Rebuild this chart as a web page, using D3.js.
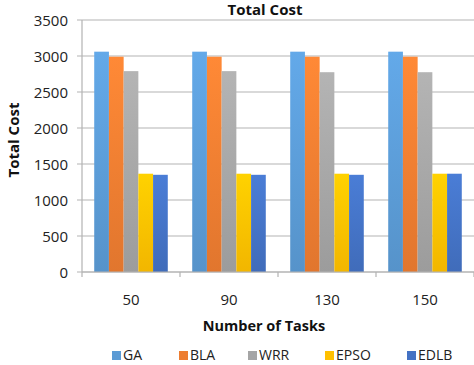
<!DOCTYPE html>
<html><head><meta charset="utf-8">
<script src="https://cdn.jsdelivr.net/npm/d3@7"></script>
<style>body{margin:0;background:#fff}svg{display:block}text{font-family:"Open Sans",sans-serif}</style>
</head><body>
<svg id="c" width="474" height="365"></svg>
<script>
const categories = ["50","90","130","150"];
const seriesNames = ["GA","BLA","WRR","EPSO","EDLB"];
const GA   = [3060,3060,3060,3060];
const BLA  = [2990,2990,2990,2990];
const WRR  = [2790,2790,2775,2775];
const EPSO = [1365,1365,1365,1365];
const EDLB = [1350,1350,1350,1365];
const yTicks = [0,500,1000,1500,2000,2500,3000,3500];
const colors = ["#5B9BD5","#ED7D31","#A5A5A5","#FFC000","#4472C4"];

const seriesValues = [GA,BLA,WRR,EPSO,EDLB];
const svg = d3.select("#c");
const mLeft = 82, mRight = 474, mTop = 20, mBottom = 272;

const defs = svg.append("defs");
colors.forEach((c,i)=>{
  const g = defs.append("linearGradient").attr("id","g"+i).attr("x1",0).attr("y1",0).attr("x2",0).attr("y2",1);
  g.append("stop").attr("offset","0%").attr("stop-color",d3.color(c).brighter(0.25));
  g.append("stop").attr("offset","100%").attr("stop-color",d3.color(c).darker(0.15));
});

const x0 = d3.scaleBand().domain(categories).range([mLeft,mRight]).paddingInner(0).paddingOuter(0);
const x1 = d3.scaleBand().domain(seriesNames).range([0,x0.bandwidth()]).paddingOuter(0.83).paddingInner(0);
const y = d3.scaleLinear().domain([0,3500]).range([mBottom,mTop]);

// gridlines
svg.append("g").selectAll("line").data(yTicks).join("line")
  .attr("x1",mLeft-5).attr("x2",mRight).attr("y1",d=>y(d)).attr("y2",d=>y(d))
  .attr("stroke","#b3b3b3").attr("stroke-width",1.2);

// y axis line
svg.append("line").attr("x1",mLeft).attr("x2",mLeft).attr("y1",mTop).attr("y2",mBottom)
  .attr("stroke","#b3b3b3").attr("stroke-width",1.2);

// y tick labels
svg.append("g").selectAll("text").data(yTicks).join("text")
  .attr("x",mLeft-14).attr("y",d=>y(d)).attr("dy","0.38em").attr("text-anchor","end")
  .attr("font-size",15).attr("fill","#222").text(d=>d);

// bars
const groups = svg.append("g").selectAll("g").data(categories).join("g")
  .attr("transform",d=>`translate(${x0(d)},0)`);
groups.selectAll("rect").data((d,ci)=>seriesNames.map((s,si)=>({s,si,v:seriesValues[si][ci]}))).join("rect")
  .attr("x",d=>x1(d.s)).attr("width",x1.bandwidth())
  .attr("y",d=>y(d.v)).attr("height",d=>y(0)-y(d.v))
  .attr("fill",d=>`url(#g${d.si})`);

// x axis
svg.append("line").attr("x1",mLeft).attr("x2",mRight).attr("y1",mBottom).attr("y2",mBottom)
  .attr("stroke","#b3b3b3").attr("stroke-width",1.2);
const xTicks = categories.map(c=>x0(c)).concat([mRight]);
svg.append("g").selectAll("line").data(xTicks).join("line")
  .attr("x1",d=>d).attr("x2",d=>d).attr("y1",mBottom).attr("y2",mBottom+5)
  .attr("stroke","#b3b3b3").attr("stroke-width",1.2);
svg.append("g").selectAll("text").data(categories).join("text")
  .attr("x",d=>x0(d)+x0.bandwidth()/2).attr("y",299).attr("dy","0.38em")
  .attr("text-anchor","middle").attr("font-size",15).attr("fill","#222").text(d=>d);

// titles
svg.append("text").attr("x",265).attr("y",15).attr("text-anchor","middle")
  .attr("font-size",15).attr("font-weight","bold").attr("fill","#111").text("Total Cost");
svg.append("text").attr("x",264).attr("y",331).attr("text-anchor","middle")
  .attr("font-size",14.5).attr("font-weight","bold").attr("fill","#111").text("Number of Tasks");
svg.append("text").attr("transform",`translate(14,140) rotate(-90)`)
  .attr("text-anchor","middle").attr("dy","0.35em").attr("font-size",15).attr("font-weight","bold").attr("fill","#111").text("Total Cost");

// legend
const legX = [112,179,248,325,407];
const leg = svg.append("g").selectAll("g").data(seriesNames).join("g")
  .attr("transform",(d,i)=>`translate(${legX[i]},355)`);
leg.append("rect").attr("x",0).attr("y",-4).attr("width",9).attr("height",9)
  .attr("fill",(d,i)=>colors[i]);
leg.append("text").attr("x",11).attr("y",0).attr("dy","0.36em").attr("font-size",14)
  .attr("fill","#222").text(d=>d);
</script>
</body></html>
